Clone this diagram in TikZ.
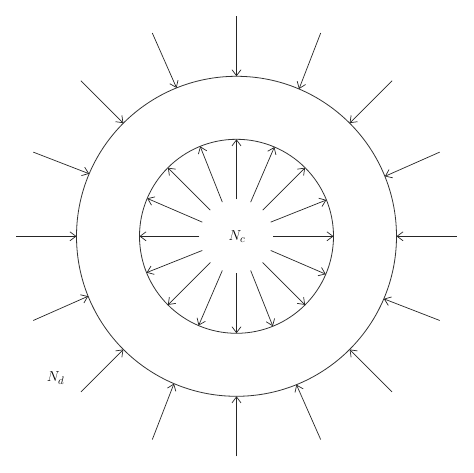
\documentclass[tikz,border=0pt]{standalone}
\usetikzlibrary{arrows.meta}
\begin{document}
\begin{tikzpicture}[x=1pt,y=1pt,
  ring/.style={circle,draw=black!80,line width=0.8pt,inner sep=0pt,outer sep=0pt},
  flow/.style={draw=black!85,line width=0.7pt,-{Straight Barb[length=6pt,width=9pt,line width=0.7pt]}},
  lbl/.style={inner sep=0pt,font=\fontsize{15}{17}\selectfont}]
\useasboundingbox (-236.5,-236.7) rectangle (237.5,236.3);
\node[ring,minimum size=320pt] (outer) at (0,0) {};
\node[ring,minimum size=194pt] (inner) at (0,0) {};
\node[lbl] (nc) at (0.5,0) {$N_c$};
\node[lbl] (nd) at (-181,-141.5) {$N_d$};
\foreach \k [evaluate=\k as \a using \k*22.5] in {0,...,15}{
  \coordinate (o\k) at (\a:220);
  \draw[flow] (o\k) -- (outer.\a);
  \coordinate (i\k) at (\a:37);
  \draw[flow] (i\k) -- (inner.\a);
}
\end{tikzpicture}
\end{document}
